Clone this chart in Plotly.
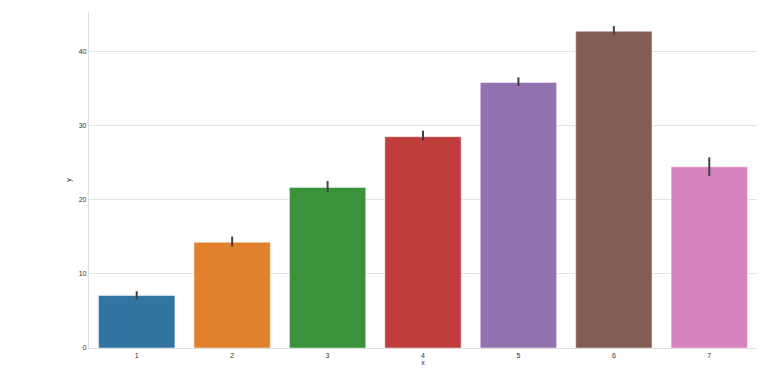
import plotly.graph_objects as go

categories = ["1", "2", "3", "4", "5", "6", "7"]
values = [7.07, 14.26, 21.65, 28.48, 35.8, 42.7, 24.43]
ci_upper = [7.65, 15.03, 22.5, 29.29, 36.5, 43.4, 25.7]
ci_lower = [6.57, 13.68, 21.05, 27.9, 35.3, 42.2, 23.2]
colors = ["#3274a1", "#e1812c", "#3a923a", "#c03d3e", "#9372b2", "#845b53", "#d684bd"]
y_ticks = [0, 10, 20, 30, 40]

fig = go.Figure(
    go.Bar(
        x=categories,
        y=values,
        width=0.8,
        marker=dict(color=colors, line=dict(color="rgba(255,255,255,0.6)", width=0.8)),
        error_y=dict(
            type="data",
            symmetric=False,
            array=[u - v for u, v in zip(ci_upper, values)],
            arrayminus=[v - l for v, l in zip(values, ci_lower)],
            color="#424242",
            thickness=2,
            width=0,
        ),
    )
)

font_family = "Liberation Sans, Arial, DejaVu Sans, sans-serif"
fig.update_layout(
    width=772,
    height=382,
    margin=dict(l=81, r=23, t=4, b=42),
    plot_bgcolor="white",
    paper_bgcolor="white",
    showlegend=False,
    font=dict(family=font_family, size=7, color="#333333"),
    xaxis=dict(
        title=dict(text="x", font=dict(size=7, color="#333333"), standoff=2),
        range=[-0.5, 6.5],
        showgrid=False,
        showline=True,
        linecolor="#e0e0e0",
        linewidth=1.2,
        ticks="",
        tickfont=dict(size=7, color="#333333"),
        zeroline=False,
    ),
    yaxis=dict(
        title=dict(text="y", font=dict(size=7, color="#333333"), standoff=6),
        range=[0, 45.3],
        tickvals=y_ticks,
        showgrid=True,
        gridcolor="#e3e3e3",
        gridwidth=1,
        showline=True,
        linecolor="#e0e0e0",
        linewidth=1.2,
        ticks="",
        tickfont=dict(size=7, color="#333333"),
        zeroline=False,
    ),
    bargap=0.2,
)

fig.write_html("out.html")
